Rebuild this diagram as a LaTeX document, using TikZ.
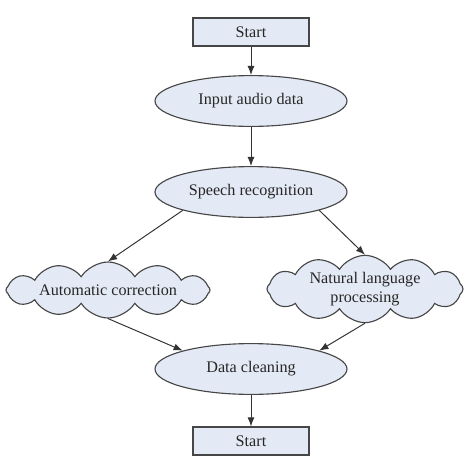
\documentclass[tikz,border=0pt]{standalone}
\usepackage{fontspec}
\setmainfont{Liberation Serif}
\usetikzlibrary{shapes.geometric,shapes.symbols,arrows.meta}
\definecolor{boxfill}{RGB}{228,234,245}
\definecolor{edgegray}{RGB}{70,70,70}
\begin{document}
\begin{tikzpicture}[
    every node/.style={font=\fontsize{11.5}{13}\selectfont, text=black!85},
    startbox/.style={draw=edgegray, fill=boxfill, line width=0.8pt, minimum width=2.9cm, minimum height=0.7cm, inner sep=0pt},
    stepoval/.style={ellipse, draw=edgegray, fill=boxfill, line width=0.8pt, minimum width=4.8cm, minimum height=1.27cm, inner sep=0pt},
    puffy/.style={cloud, cloud puffs=12, cloud puff arc=115, cloud ignores aspect, draw=edgegray, fill=boxfill, line width=0.8pt, inner sep=0pt},
    flow/.style={draw=black!80, line width=0.7pt, -{Latex[length=6.5pt,width=5pt]}}
]
% Frame
\useasboundingbox (0, 0) rectangle (11.85, -11.85);

% Top start
\node[startbox] (start) at (6.275, -0.8) {Start};

% Input and recognition
\node[stepoval] (input) at (6.275, -2.525) {Input audio data};
\node[stepoval] (speech) at (6.275, -4.8) {Speech recognition};

% Two branches
\node[puffy, minimum width=5.1cm, minimum height=1.4cm] (autocorr) at (2.7, -7.25) {Automatic correction};
\node[puffy, minimum width=4.9cm, minimum height=1.55cm, align=center] (nlp) at (9.125, -7.225) {Natural language\\processing};

% Cleaning and end
\node[stepoval] (clean) at (6.275, -9.225) {Data cleaning};
\node[startbox] (finish) at (6.275, -11.025) {Start};

% Arrows
\draw[flow] (start) -- (input);
\draw[flow] (input) -- (speech);
\draw[flow] (speech.south west) -- (autocorr.north);
\draw[flow] (speech.south east) -- (nlp.north);
\draw[flow] (autocorr.south) -- (clean.north west);
\draw[flow] (nlp.south) -- (clean.north east);
\draw[flow] (clean) -- (finish);

\end{tikzpicture}
\end{document}
